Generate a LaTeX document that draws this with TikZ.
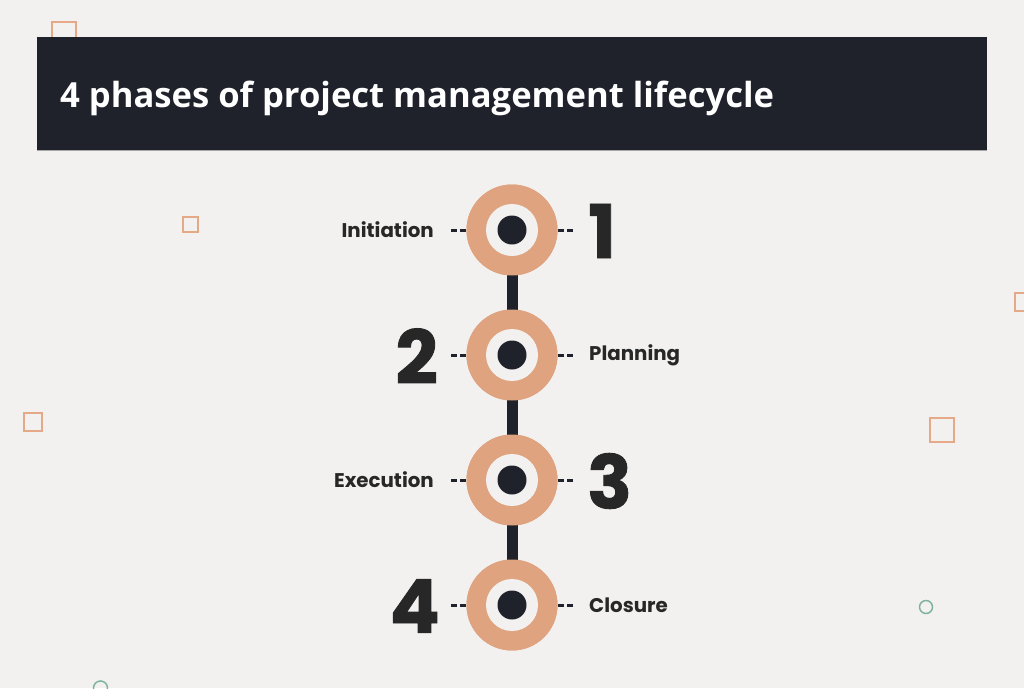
\documentclass[tikz,border=0pt]{standalone}
\usepackage{fontspec}
\usetikzlibrary{calc}
\setmainfont{Poppins}
\newfontfamily\titlefont{Open Sans}
\newfontfamily\numfont{Poppins}[BoldFeatures={FakeBold=1.2}]
\definecolor{bgc}{HTML}{F3F1EF}
\definecolor{darkc}{HTML}{1F222B}
\definecolor{orangec}{HTML}{DFA380}
\definecolor{sqc}{HTML}{E6A988}
\definecolor{greenc}{HTML}{7DB3A1}
\definecolor{txtc}{HTML}{272727}
\tikzset{
  outer/.style={circle, fill=orangec, minimum size=91pt, inner sep=0pt},
  innerw/.style={circle, fill=bgc, minimum size=52pt, inner sep=0pt},
  dotc/.style={circle, fill=darkc, minimum size=29pt, inner sep=0pt},
  dashline/.style={draw=darkc, line width=3pt, dash pattern=on 6pt off 3pt},
  barline/.style={draw=darkc, line width=11pt},
  lab/.style={text=txtc, inner sep=0pt, font=\bfseries\fontsize{19.8}{22}\selectfont},
  num/.style={text=txtc, inner sep=0pt, font=\numfont\bfseries\fontsize{74}{80}\selectfont},
  deco/.style={draw=sqc, line width=1.5pt},
  decog/.style={draw=greenc, line width=1.5pt}
}
\begin{document}
\begin{tikzpicture}[x=1pt,y=-1pt]
\fill[bgc] (0,0) rectangle (1024,688);
\useasboundingbox (0,0) rectangle (1024,688);
% decorations
\draw[deco] (52,22) rectangle (76,46);
\draw[deco] (183,217) rectangle (198,232);
\draw[deco] (24,413) rectangle (42,431);
\draw[deco] (1015,293) rectangle (1034,311);
\draw[deco] (930,418) rectangle (954,442);
\draw[decog] (926,607) circle (6.5);
\draw[decog] (100.5,688) circle (7);
% title bar
\fill[darkc] (37,37) rectangle (987,150);
\draw[draw=gray!70, line width=1pt] (37,150) -- (987,150);
\node[anchor=base west, inner sep=0pt, text=white, font=\titlefont\bfseries\fontsize{34.6}{40}\selectfont] (title) at (60,107) {4 phases of project management lifecycle};
% circles
\foreach \i/\y in {1/230,2/355,3/480,4/605}{
  \node[outer] (c\i) at (512,\y) {};
}
\draw[barline] (c1.center) -- (c2.center);
\draw[barline] (c2.center) -- (c3.center);
\draw[barline] (c3.center) -- (c4.center);
\foreach \i in {1,2,3,4}{
  \node[outer] at (c\i) {};
  \node[innerw] (w\i) at (c\i) {};
  \node[dotc] (d\i) at (c\i) {};
  \coordinate (l\i) at ($(c\i.center)+(-61,0)$);
  \coordinate (r\i) at ($(c\i.center)+(61,0)$);
  \draw[dashline] (l\i) -- (c\i.west);
  \draw[dashline] (r\i) -- (c\i.east);
}
% labels
\node[lab, anchor=east] (t1) at (434,230) {Initiation};
\node[lab, anchor=west] (t2) at (589,355) {Planning};
\node[lab, anchor=east] (t3) at (434,480) {Execution};
\node[lab, anchor=west] (t4) at (589,605) {Closure};
\node[num, anchor=west] (n1) at (588,231) {1};
\node[num, anchor=east] (n2) at (438,356) {2};
\node[num, anchor=west] (n3) at (587,481) {3};
\node[num, anchor=east] (n4) at (440,606) {4};
\end{tikzpicture}
\end{document}
